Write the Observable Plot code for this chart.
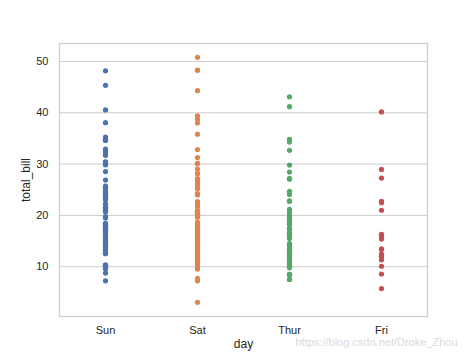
<!DOCTYPE html>
<html>
<head>
<meta charset="utf-8">
<script src="https://cdn.jsdelivr.net/npm/d3@7"></script>
<script src="https://cdn.jsdelivr.net/npm/@observablehq/plot@0.6"></script>
<style>
  html, body { margin: 0; padding: 0; background: #fff; }
</style>
</head>
<body>
<div id="chart"></div>
<script>
const days = ["Sun", "Sat", "Thur", "Fri"];
const colors = ["#4C72B0", "#DD8452", "#55A868", "#C44E52"];
const yTicks = [10, 20, 30, 40, 50];

const sun = [16.99, 10.34, 21.01, 23.68, 24.59, 25.29, 8.77, 26.88, 15.04, 14.78, 10.27, 35.26, 15.42, 18.43, 14.83, 21.58, 10.33, 16.29, 16.97,
  17.46, 13.94, 9.68, 30.40, 18.29, 22.23, 32.40, 28.55, 18.04, 12.54, 10.29, 34.81, 9.94, 25.56, 19.49,
  38.07, 23.95, 25.71, 17.31, 29.93,
  14.07, 13.13, 17.26, 24.55, 19.77, 29.85, 48.17, 25.00, 13.39, 16.49, 21.50, 12.66, 16.21, 13.81, 17.51, 24.52, 20.76, 31.71,
  7.25, 31.85, 16.82, 32.90, 17.89, 14.48, 9.60, 34.63, 34.65, 23.33, 45.35, 23.17, 40.55, 20.69, 20.90, 30.46, 18.15, 23.10, 15.69];
const sat = [20.65, 17.92, 20.29, 15.77, 39.42, 19.82, 17.81, 13.37, 12.69, 21.70, 19.65, 9.55, 18.35, 15.06, 20.69, 17.78, 24.06, 16.31, 16.93, 18.69, 31.27, 16.04,
  38.01, 26.41, 11.24, 48.27, 20.29, 13.81, 11.02, 18.29, 17.59, 20.08, 16.45, 3.07, 20.23, 15.01, 12.02, 17.07, 26.86, 25.28, 14.73, 10.51, 17.92,
  44.30, 22.42, 20.92, 15.36, 20.49, 25.21, 18.24, 14.31, 14.00, 7.25,
  10.59, 10.63, 50.81, 15.81,
  26.59, 38.73, 24.27, 12.76, 30.06, 25.89, 48.33, 13.27, 28.17, 12.90, 28.15, 11.59, 7.74, 30.14,
  20.45, 13.28, 22.12, 24.01, 15.69, 11.61, 10.77, 15.53, 10.07, 12.60, 32.83, 35.83, 29.03, 27.18, 22.67, 17.82];
const thur = [27.20, 22.76, 17.29, 19.44, 16.66, 10.07, 32.68, 15.98, 34.83, 13.03, 18.28, 24.71, 21.16,
  10.65, 12.43, 24.08, 11.69, 13.42, 14.26, 15.95, 12.48, 29.80, 8.52, 14.52, 11.38, 22.82, 19.08, 20.27, 11.17, 12.26, 18.26, 8.51, 10.33, 14.15, 16.00, 13.16, 17.47, 34.30, 41.19, 27.05, 16.43, 8.35, 18.64, 11.87, 9.78, 7.51,
  19.81, 28.44, 15.48, 16.58, 7.56, 10.34, 43.11, 13.00, 13.51, 18.71, 12.74, 13.00, 16.40, 20.53, 16.47,
  18.78];
const fri = [28.97, 22.49, 5.75, 16.32, 22.75, 40.17, 27.28, 12.03, 21.01, 12.46, 11.35, 15.38,
  12.16, 13.42, 8.58, 15.98, 13.42, 16.27, 10.09];

const series = {Sun: sun, Sat: sat, Thur: thur, Fri: fri};
const data = days.flatMap(d => series[d].map(v => ({day: d, total_bill: v})));

const chart = Plot.plot({
  width: 474,
  height: 355,
  marginLeft: 59,
  marginRight: 47,
  marginTop: 43,
  marginBottom: 39,
  style: {fontFamily: "'Liberation Sans', Arial, sans-serif", fontSize: "11px", color: "#262626", background: "#fff"},
  x: {type: "point", domain: days, padding: 0.5},
  y: {domain: [0.3, 53.5]},
  color: {domain: days, range: colors},
  marks: [
    Plot.gridY(yTicks, {stroke: "#cccccc", strokeOpacity: 1, strokeWidth: 1}),
    Plot.frame({stroke: "#cccccc", strokeWidth: 1.25}),
    Plot.axisY(yTicks, {tickSize: 0, tickPadding: 11, fontSize: 11, label: null, fill: "#262626"}),
    Plot.axisX({tickSize: 0, tickPadding: 10, fontSize: 11, label: null, fill: "#262626"}),
    Plot.dot(data, {x: "day", y: "total_bill", fill: "day", r: 2.6, stroke: null}),
    Plot.text(["total_bill"], {frameAnchor: "left", dx: -33, rotate: -90, fontSize: 12, fill: "#262626", textAnchor: "middle"}),
    Plot.text(["day"], {frameAnchor: "bottom", dy: 31, fontSize: 12, fill: "#262626"}),
    Plot.text(["https://blog.csdn.net/Droke_Zhou"], {frameAnchor: "bottom-right", dx: -132, dy: 29, textAnchor: "start", fontSize: 11, fill: "#dadada"})
  ]
});
document.getElementById("chart").appendChild(chart);
</script>
</body>
</html>
